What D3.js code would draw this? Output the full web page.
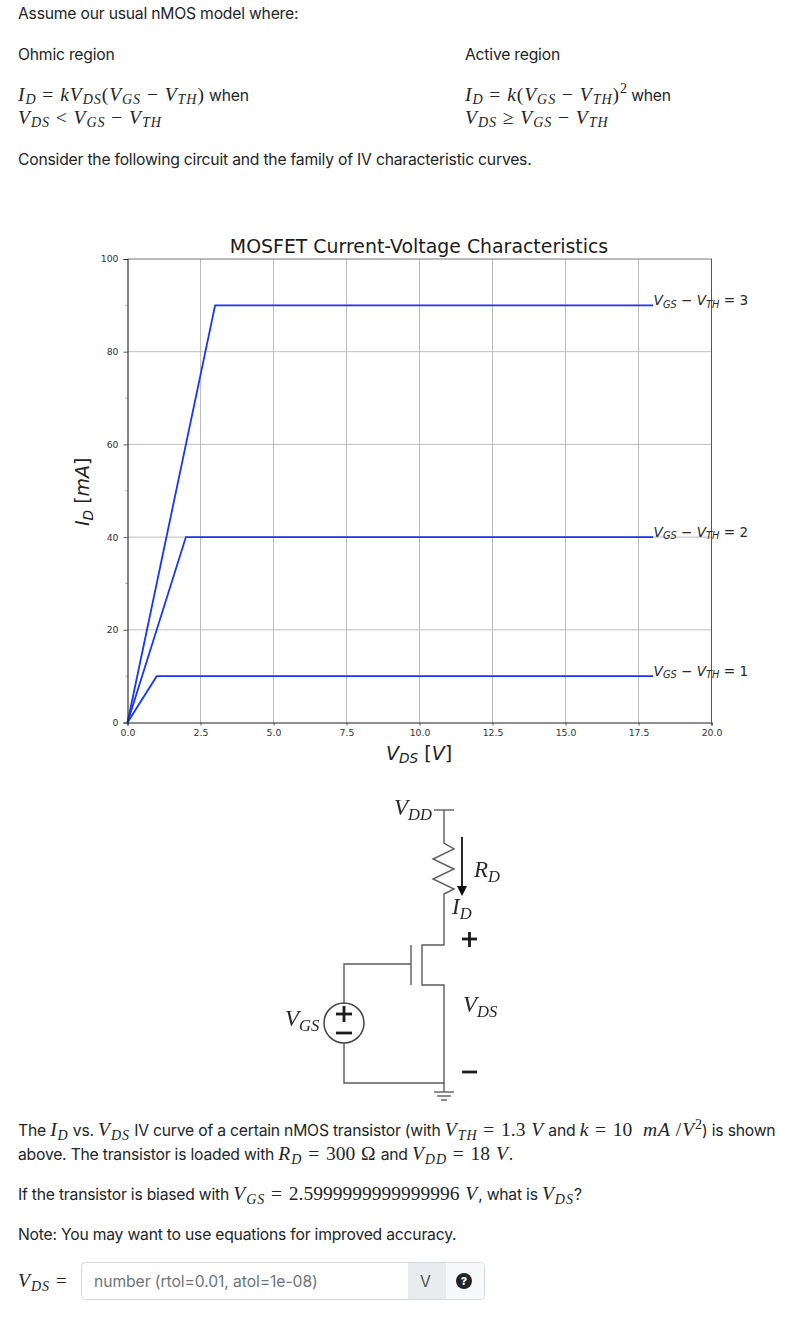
<!DOCTYPE html>
<html>
<head>
<meta charset="utf-8">
<script src="https://cdn.jsdelivr.net/npm/d3@7"></script>
<style>
  html, body { margin: 0; padding: 0; background: #fff; }
  svg { display: block; }
  text { white-space: pre; }
</style>
</head>
<body>
<div id="container"></div>
<script>
// curves: [VDS, ID]
var curveOne = [[0, 0], [1, 10], [18, 10]];
var curveTwo = [[0, 0], [2, 40], [18, 40]];
var curveThree = [[0, 0], [3, 90], [18, 90]];
var curveLabels = ["1", "2", "3"];
var xTicks = [0, 2.5, 5, 7.5, 10, 12.5, 15, 17.5, 20];
var yTicks = [0, 20, 40, 60, 80, 100];
var yMinorTicks = [10, 30, 50, 70, 90];

var bodyFont = "Inter";
var mathFont = "'Liberation Serif'";
var ink = "#212529";

var svg = d3.select("#container").append("svg")
  .attr("width", 812)
  .attr("height", 1326);

/*
 * Write a line of text. Anything between $ signs is set as math,
 * letters in italics, _{} lowered and ^{} raised.
 */
function rich(parent, x, y, str, size, mathSize, fill, serif){
  var t = parent.append("text")
    .attr("x", x)
    .attr("y", y)
    .attr("fill", fill || ink)
    .attr("font-family", bodyFont)
    .attr("font-size", size);
  var shift = 0;
  function add(s, opts){
    if(!s.length){ return; }
    var span = t.append("tspan").text(s)
      .attr("dy", (opts.shift || 0) - shift);
    shift = opts.shift || 0;
    if(opts.math){
      span.attr("font-family", serif || mathFont).attr("font-size", opts.size);
      if(opts.italic){ span.attr("font-style", "italic"); }
      // digits sit tight, letters and operators are spaced out
      if(!serif){ span.attr("letter-spacing", /^[0-9.]+$/.test(s) ? 0 : 0.95); }
    } else if(!serif){
      span.attr("letter-spacing", -0.21);
    } else {
      span.attr("font-family", serif);
    }
  }
  function addMath(s, sz, sh){
    (s.match(/[A-Za-z]+|[0-9.]+|[^A-Za-z0-9.]+/g) || []).forEach(function(run){
      add(run, {math: true, italic: /[A-Za-z]/.test(run[0]), size: sz, shift: sh});
    });
  }
  str.split("$").forEach(function(chunk, i){
    if(i % 2 === 0){ add(chunk, {}); return; }
    chunk.split(/([_^]\{[^}]*\})/).forEach(function(part){
      if(part[0] === "_"){
        addMath(part.slice(2, -1), mathSize * 0.72, mathSize * 0.2);
      } else if(part[0] === "^"){
        addMath(part.slice(2, -1), mathSize * 0.72, -mathSize * 0.38);
      } else {
        addMath(part, mathSize, 0);
      }
    });
  });
  return t;
}

// top text
var page = svg.append("g");
rich(page, 18, 19, "Assume our usual nMOS model where:", 15.7, 18);
rich(page, 18, 60, "Ohmic region", 15.7, 18);
rich(page, 465, 60, "Active region", 15.7, 18);
rich(page, 18, 100.5, "$I_{D} = kV_{DS}(V_{GS} − V_{TH})$ when", 15.7, 19.5);
rich(page, 18, 123.5, "$V_{DS} < V_{GS} − V_{TH}$", 15.7, 19.5);
rich(page, 465, 100.5, "$I_{D} = k(V_{GS} − V_{TH})^{2}$ when", 15.7, 19.5);
rich(page, 465, 123.5, "$V_{DS} ≥ V_{GS} − V_{TH}$", 15.7, 19.5);
rich(page, 18, 165, "Consider the following circuit and the family of IV characteristic curves.", 15.7, 18);

// plot
var x = d3.scaleLinear().domain([0, 20]).range([127.5, 711.5]);
var y = d3.scaleLinear().domain([0, 100]).range([722.5, 259]);
var plotFont = "'DejaVu Sans'";
var plot = svg.append("g").attr("font-family", plotFont);

plot.append("g").selectAll("line").data(xTicks.slice(1, -1)).join("line")
  .attr("x1", function(d){ return x(d); })
  .attr("x2", function(d){ return x(d); })
  .attr("y1", y(0))
  .attr("y2", y(100))
  .attr("stroke", "#bdbdbd")
  .attr("stroke-width", 1);
plot.append("g").selectAll("line").data(yTicks.slice(1, -1)).join("line")
  .attr("x1", x(0))
  .attr("x2", x(20))
  .attr("y1", function(d){ return y(d); })
  .attr("y2", function(d){ return y(d); })
  .attr("stroke", "#bdbdbd")
  .attr("stroke-width", 1);

var line = d3.line()
  .x(function(d){ return x(d[0]); })
  .y(function(d){ return y(d[1]); });
var curves = [curveOne, curveTwo, curveThree];
plot.append("g").selectAll("path").data(curves).join("path")
  .attr("d", line)
  .attr("fill", "none")
  .attr("stroke", "#1a35f5")
  .attr("stroke-width", 1.8);

// top and right frame
plot.append("line").attr("x1", x(0)).attr("x2", x(20)).attr("y1", y(100)).attr("y2", y(100))
  .attr("stroke", "#777").attr("stroke-width", 1);
plot.append("line").attr("x1", x(20)).attr("x2", x(20)).attr("y1", y(100)).attr("y2", y(0))
  .attr("stroke", "#555").attr("stroke-width", 1);

var xAxis = d3.axisBottom(x).tickValues(xTicks).tickSize(3).tickPadding(3.5)
  .tickFormat(d3.format(".1f"));
var yAxis = d3.axisLeft(y).tickValues(yTicks).tickSize(4).tickPadding(5)
  .tickFormat(d3.format("d"));
var xG = plot.append("g").attr("transform", "translate(0," + y(0) + ")").call(xAxis);
var yG = plot.append("g").attr("transform", "translate(" + x(0) + ",0)").call(yAxis);
[xG, yG].forEach(function(g){
  g.attr("font-family", plotFont).attr("font-size", 9.3);
  g.selectAll("text").attr("fill", "#333");
  g.selectAll("line").attr("stroke", "#333").attr("stroke-width", 0.8);
  g.select(".domain").attr("stroke", "#222").attr("stroke-width", 1.1);
});
plot.append("g").selectAll("line").data(yMinorTicks).join("line")
  .attr("x1", x(0) - 2)
  .attr("x2", x(0))
  .attr("y1", function(d){ return y(d); })
  .attr("y2", function(d){ return y(d); })
  .attr("stroke", "#555")
  .attr("stroke-width", 0.6);

plot.append("text")
  .attr("x", 419)
  .attr("y", 252.5)
  .attr("text-anchor", "middle")
  .attr("font-size", 18.9)
  .attr("fill", "#1c1c1c")
  .text("MOSFET Current-Voltage Characteristics");

rich(plot, 386, 759.5, "$V_{DS}$ [$V$]", 19, 19, "#222", plotFont);
var yLabel = plot.append("g").attr("transform", "translate(89,490) rotate(-90)");
rich(yLabel, -36, 0, "$I_{D}$ [$mA$]", 19, 19, "#222", plotFont);

curves.forEach(function(c, i){
  var end = c[c.length - 1];
  rich(plot, x(end[0]) + 0.5, y(end[1]) - 0.5, "$V_{GS} − V_{TH} = " + curveLabels[i] + "$", 13.6, 13.6, "#2a2a2a", plotFont);
});

// circuit schematic
var circuit = svg.append("g");
var blur = svg.append("defs").append("filter").attr("id", "soft");
blur.append("feGaussianBlur").attr("stdDeviation", 0.45);
circuit.attr("filter", "url(#soft)");
var wire = d3.line();
var wires = [
  [[434, 810], [454, 810]],
  [[444, 810], [444, 843], [454, 849], [433, 859], [454, 869], [433, 879], [454, 889], [444, 894], [444, 945], [422, 945], [422, 985], [444, 985], [444, 1083]],
  [[411, 945], [411, 985]],
  [[411, 964], [344, 964], [344, 1003]],
  [[344, 1043], [344, 1083], [444, 1083], [444, 1092]],
  [[434, 1092], [454, 1092]],
  [[437, 1096], [451, 1096]],
  [[441, 1100], [447, 1100]]
];
circuit.selectAll("path.wire").data(wires).join("path")
  .attr("class", "wire")
  .attr("d", wire)
  .attr("fill", "none")
  .attr("stroke", "#5c5c5c")
  .attr("stroke-width", 1.4);
circuit.append("circle").attr("cx", 344).attr("cy", 1023).attr("r", 20)
  .attr("fill", "none").attr("stroke", "#444").attr("stroke-width", 1.5);
circuit.append("path").attr("d", wire([[462, 837], [462, 888]]))
  .attr("stroke", "#111").attr("stroke-width", 1.8).attr("fill", "none");
circuit.append("path").attr("d", wire([[457, 886], [467, 886], [462, 896]]) + "Z").attr("fill", "#111");

var boldMarks = [
  [[[462, 939], [477, 939]], [[469.5, 932], [469.5, 947]]],
  [[[462, 1072], [477, 1072]]],
  [[[336, 1014], [352, 1014]], [[344, 1006], [344, 1022]]],
  [[[336, 1033], [352, 1033]]]
];
boldMarks.forEach(function(mark){
  mark.forEach(function(seg){
    circuit.append("path").attr("d", wire(seg)).attr("stroke", "#1a1a1a").attr("stroke-width", 2.8);
  });
});
var circuitSerif = "'Liberation Serif'";
rich(circuit, 394, 815, "$V_{DD}$", 23, 23, "#2a2a2a", circuitSerif);
rich(circuit, 474, 877, "$R_{D}$", 23, 23, "#2a2a2a", circuitSerif);
rich(circuit, 452, 914, "$I_{D}$", 23, 23, "#2a2a2a", circuitSerif);
rich(circuit, 463, 1012, "$V_{DS}$", 23, 23, "#2a2a2a", circuitSerif);
rich(circuit, 285, 1026, "$V_{GS}$", 23, 23, "#2a2a2a", circuitSerif);

// question text
rich(page, 18, 1136, "The $I_{D}$ vs. $V_{DS}$ IV curve of a certain nMOS transistor (with $V_{TH} = 1.3 V$ and $k = 10 \u2009mA\u2009/V^{2}$) is shown", 15.7, 19.5);
rich(page, 18, 1160, "above. The transistor is loaded with $R_{D} = 300 Ω$ and $V_{DD} = 18 V$.", 15.7, 19.5);
rich(page, 18, 1200, "If the transistor is biased with $V_{GS} = 2.5999999999999996 V$, what is $V_{DS}$?", 15.7, 19.5);
rich(page, 18, 1240, "Note: You may want to use equations for improved accuracy.", 15.7, 19.5);
rich(page, 18, 1287, "$V_{DS} =$", 15.7, 19.5);

// answer input
var form = svg.append("g");
form.append("rect").attr("x", 81.5).attr("y", 1262.5).attr("width", 403).attr("height", 37).attr("rx", 4)
  .attr("fill", "#fff").attr("stroke", "#d5d9dd");
form.append("rect").attr("x", 408).attr("y", 1263).attr("width", 38).attr("height", 36).attr("fill", "#e9ecef");
form.append("rect").attr("x", 446).attr("y", 1263).attr("width", 38).attr("height", 36).attr("rx", 3).attr("fill", "#f8f9fa");
rich(form, 94, 1287, "number (rtol=0.01, atol=1e-08)", 15.7, 18, "#6c757d")
  .selectAll("tspan").attr("letter-spacing", -0.08);
rich(form, 420, 1287, "V", 15.7, 18, "#495057");
form.append("circle").attr("cx", 464).attr("cy", 1281).attr("r", 8).attr("fill", "#212529");
form.append("text").attr("x", 464).attr("y", 1285).attr("text-anchor", "middle")
  .attr("font-family", bodyFont).attr("font-size", 11).attr("font-weight", 800).attr("fill", "#fff").text("?");
</script>
</body>
</html>
